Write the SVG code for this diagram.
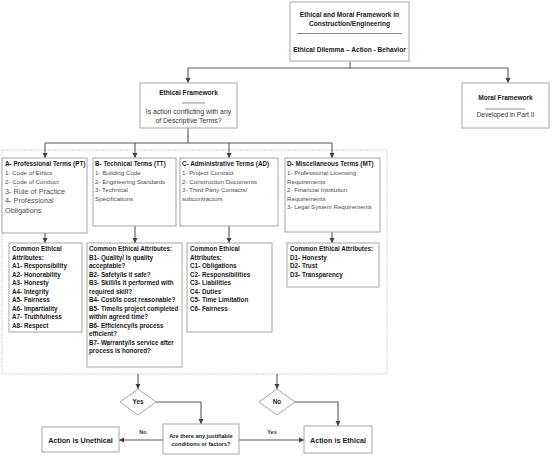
<svg xmlns="http://www.w3.org/2000/svg" width="553" height="456" viewBox="0 0 553 456">
<defs>
<marker id="ah" markerWidth="6" markerHeight="6" refX="5" refY="3" orient="auto" markerUnits="userSpaceOnUse">
<path d="M0,0.5 L5,3 L0,5.5 Z" fill="#404040"/>
</marker>
<style>
text{font-family:"Liberation Sans",Arial,sans-serif;}
.box{fill:#fff;stroke:#a6a6a6;stroke-width:1;}
.cont{fill:none;stroke:#bfbfbf;stroke-width:1;stroke-dasharray:1.2,1.2;}
.c{fill:none;stroke:#595959;stroke-width:1.1;}
.a{fill:none;stroke:#595959;stroke-width:1.1;marker-end:url(#ah);}
.div{stroke:#404040;stroke-width:0.6;}
.t{font-size:6.3px;font-weight:bold;fill:#1a1a1a;}
.g{font-size:6.2px;fill:#4d4d4d;}
.gl{font-size:7.3px;fill:#4d4d4d;}
.b{font-size:6.3px;font-weight:bold;fill:#1a1a1a;}
.mid{text-anchor:middle;}
</style>
</defs>
<rect width="553" height="456" fill="#fff"/>
<rect class="cont" x="2" y="150" width="385" height="224"/>
<g id="connectors">
<polyline class="c" points="350,62 350,68"/>
<line class="c" x1="188" y1="68" x2="508" y2="68"/>
<line class="a" x1="188" y1="68" x2="188" y2="83"/>
<line class="a" x1="508" y1="68" x2="508" y2="83"/>
<line class="c" x1="188" y1="128" x2="188" y2="143"/>
<line class="c" x1="45" y1="143" x2="332" y2="143"/>
<line class="a" x1="45" y1="143" x2="45" y2="158"/>
<line class="a" x1="135" y1="143" x2="135" y2="158"/>
<line class="a" x1="229" y1="143" x2="229" y2="158"/>
<line class="a" x1="332" y1="143" x2="332" y2="158"/>
<line class="a" x1="45" y1="233" x2="45" y2="243"/>
<line class="a" x1="135" y1="226" x2="135" y2="243"/>
<line class="a" x1="229" y1="226" x2="229" y2="243"/>
<line class="a" x1="332" y1="232" x2="332" y2="243"/>
<line class="a" x1="138" y1="374" x2="138" y2="389"/>
<line class="a" x1="277" y1="374" x2="277" y2="389"/>
<polyline class="a" points="156,402 201,402 201,424"/>
<polyline class="a" points="295,402 338,402 338,426"/>
<line class="a" x1="163" y1="440" x2="119" y2="440"/>
<line class="a" x1="239" y1="440" x2="304" y2="440"/>
<text class="mid" x="143" y="434" style="font-size:5.6px;font-weight:bold;fill:#333">No</text>
<text class="mid" x="272" y="434" style="font-size:5.6px;font-weight:bold;fill:#333">Yes</text>
</g>
<g id="top">
<rect class="box" x="290" y="2" width="119" height="59"/>
<text class="mid" x="349.5" y="17" style="font-size:6.6px;font-weight:bold;fill:#1a1a1a">Ethical and Moral Framework in</text>
<text class="mid" x="349.5" y="26" style="font-size:6.6px;font-weight:bold;fill:#1a1a1a">Construction/Engineering</text>
<line class="div" x1="297" y1="33.5" x2="402" y2="33.5"/>
<text class="mid" x="349.5" y="51.5" style="font-size:6.6px;font-weight:bold;fill:#1a1a1a">Ethical Dilemma – Action - Behavior</text>
</g>
<g id="ethical">
<rect class="box" x="140" y="83" width="97" height="45"/>
<text class="mid" x="188.5" y="94.5" style="font-size:6.6px;font-weight:bold;fill:#1a1a1a">Ethical Framework</text>
<line class="div" x1="182" y1="103" x2="205" y2="103"/>
<text class="mid" x="188.5" y="113.5" style="font-size:6.9px;fill:#333">Is action conflicting with any</text>
<text class="mid" x="188.5" y="122.5" style="font-size:6.9px;fill:#333">of Descriptive Terms?</text>
</g>
<g id="moral">
<rect class="box" x="462" y="83" width="87" height="45"/>
<text class="mid" x="505.5" y="99.5" style="font-size:6.6px;font-weight:bold;fill:#1a1a1a">Moral Framework</text>
<line class="div" x1="485" y1="109" x2="525" y2="109"/>
<text class="mid" x="505.5" y="117" style="font-size:6.6px;fill:#333">Developed in Part II</text>
</g>
<g id="termA">
<rect class="box" x="2" y="158" width="85" height="75"/>
<text class="t" x="5" y="166">A- Professional Terms (PT)</text>
<text class="g" x="5" y="174.5">1- Code of Ethics</text>
<text class="g" x="5" y="183.5">2- Code of Conduct</text>
<text class="gl" x="5" y="193.5">3- Rule of Practice</text>
<text class="gl" x="5" y="203">4- Professional</text>
<text class="gl" x="5" y="212.5">Obligations</text>
</g>
<g id="termB">
<rect class="box" x="93" y="158" width="83" height="68"/>
<text class="t" x="95" y="166">B- Technical Terms (TT)</text>
<text class="g" x="95" y="174.5">1- Building Code</text>
<text class="g" x="95" y="183.5">2- Engineering Standards</text>
<text class="g" x="95" y="192">3- Technical</text>
<text class="g" x="95" y="200.5">Specifications</text>
</g>
<g id="termC">
<rect class="box" x="180" y="158" width="98" height="68"/>
<text class="t" x="182" y="166">C- Administrative Terms (AD)</text>
<text class="g" x="182" y="174.5">1- Project Contract</text>
<text class="g" x="182" y="183.5">2- Construction Documents</text>
<text class="g" x="182" y="192">3- Third Party Contacts/</text>
<text class="g" x="182" y="200.5">subcontractors</text>
</g>
<g id="termD">
<rect class="box" x="285" y="158" width="95" height="74"/>
<text class="t" x="287" y="166">D- Miscellaneous Terms (MT)</text>
<text class="g" x="287" y="175">1- Professional Licensing</text>
<text class="g" x="287" y="183.5">Requirements</text>
<text class="g" x="287" y="192">2- Financial Institution</text>
<text class="g" x="287" y="200.5">Requirements</text>
<text class="g" x="287" y="209">3- Legal System Requirements</text>
</g>
<g id="attrA">
<rect class="box" x="9" y="243" width="73" height="89"/>
<text class="b" x="12" y="251">Common Ethical</text>
<text class="b" x="12" y="259.5">Attributes:</text>
<text class="b" x="12" y="268">A1- Responsibility</text>
<text class="b" x="12" y="276.5">A2- Honorability</text>
<text class="b" x="12" y="285">A3- Honesty</text>
<text class="b" x="12" y="293.5">A4- Integrity</text>
<text class="b" x="12" y="302">A5- Fairness</text>
<text class="b" x="12" y="310.5">A6- Impartiality</text>
<text class="b" x="12" y="319">A7- Truthfulness</text>
<text class="b" x="12" y="327.5">A8- Respect</text>
</g>
<g id="attrB">
<rect class="box" x="87" y="243" width="95" height="124"/>
<text class="b" x="89" y="251">Common Ethical Attributes:</text>
<text class="b" x="89" y="259.5">B1- Quality/ Is quality</text>
<text class="b" x="89" y="268">acceptable?</text>
<text class="b" x="89" y="276.5">B2- Safety/Is it safe?</text>
<text class="b" x="89" y="285">B3- Skill/Is it performed with</text>
<text class="b" x="89" y="293.5">required skill?</text>
<text class="b" x="89" y="302">B4- Cost/Is cost reasonable?</text>
<text class="b" x="89" y="310.5">B5- Time/Is project completed</text>
<text class="b" x="89" y="319">within agreed time?</text>
<text class="b" x="89" y="327.5">B6- Efficiency/Is process</text>
<text class="b" x="89" y="336">efficient?</text>
<text class="b" x="89" y="344.5">B7- Warranty/Is service after</text>
<text class="b" x="89" y="353">process is honored?</text>
</g>
<g id="attrC">
<rect class="box" x="187" y="243" width="85" height="89"/>
<text class="b" x="190" y="251">Common Ethical</text>
<text class="b" x="190" y="259.5">Attributes:</text>
<text class="b" x="190" y="268">C1- Obligations</text>
<text class="b" x="190" y="276.5">C2- Responsibilities</text>
<text class="b" x="190" y="285">C3- Liabilities</text>
<text class="b" x="190" y="293.5">C4- Duties</text>
<text class="b" x="190" y="302">C5- Time Limitation</text>
<text class="b" x="190" y="310.5">C6- Fairness</text>
</g>
<g id="attrD">
<rect class="box" x="287" y="243" width="92" height="44"/>
<text class="b" x="290" y="251">Common Ethical Attributes:</text>
<text class="b" x="290" y="259.5">D1- Honesty</text>
<text class="b" x="290" y="268">D2- Trust</text>
<text class="b" x="290" y="276.5">D3- Transparency</text>
</g>
<g id="yes">
<polygon class="box" points="138,389 156,402 138,415 120,402"/>
<text class="mid b" x="138" y="404.3">Yes</text>
</g>
<g id="no">
<polygon class="box" points="277,389 295,402 277,415 259,402"/>
<text class="mid b" x="277" y="404.3">No</text>
</g>
<g id="question">
<rect class="box" x="163" y="424" width="76" height="30"/>
<text class="mid" x="201" y="438" style="font-size:5.6px;font-weight:bold;fill:#1a1a1a">Are there any justifiable</text>
<text class="mid" x="201" y="445.5" style="font-size:5.6px;font-weight:bold;fill:#1a1a1a">conditions or factors?</text>
</g>
<g id="unethical">
<rect class="box" x="42" y="427" width="77" height="25"/>
<text class="mid" x="80.5" y="442.5" style="font-size:7.2px;font-weight:bold;fill:#1a1a1a">Action is Unethical</text>
</g>
<g id="ethicalResult">
<rect class="box" x="304" y="426" width="68" height="27"/>
<text class="mid" x="338" y="442.5" style="font-size:7.2px;font-weight:bold;fill:#1a1a1a">Action is Ethical</text>
</g>
</svg>
